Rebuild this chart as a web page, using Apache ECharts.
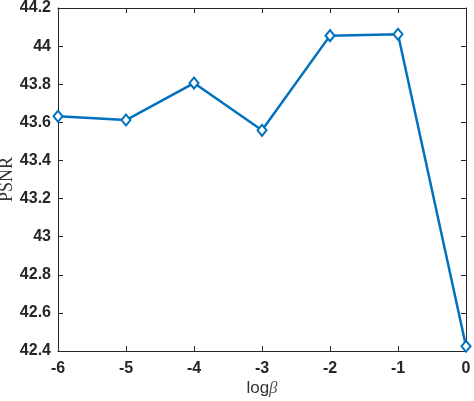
<!DOCTYPE html>
<html>
<head>
<meta charset="utf-8">
<script src="https://cdn.jsdelivr.net/npm/echarts@6/dist/echarts.min.js"></script>
<style>html,body{margin:0;padding:0;background:#fff}#c{width:474px;height:401px}</style>
</head>
<body>
<div id="c"></div>
<script>
const xValues = [-6, -5, -4, -3, -2, -1, 0];
const psnr = [43.632, 43.612, 43.806, 43.558, 44.055, 44.062, 42.425];
const yTicks = [42.4, 42.6, 42.8, 43, 43.2, 43.4, 43.6, 43.8, 44, 44.2];

const chart = echarts.init(document.getElementById('c'), null, {renderer: 'canvas'});
const axisColor = '#262626';
const labelFont = {fontFamily: 'Liberation Sans, Arial, sans-serif', fontWeight: 'bold', fontSize: 16, color: '#262626'};
const baseX = {
  type: 'value', min: -6, max: 0, interval: 1,
  axisLine: {show: true, onZero: false, lineStyle: {color: axisColor, width: 1}},
  axisTick: {show: true, inside: true, length: 5, lineStyle: {color: axisColor}},
  splitLine: {show: false}
};
const baseY = {
  type: 'value', min: 42.4, max: 44.2, interval: 0.2,
  axisLine: {show: true, onZero: false, lineStyle: {color: axisColor, width: 1}},
  axisTick: {show: true, inside: true, length: 5, lineStyle: {color: axisColor}},
  splitLine: {show: false}
};
chart.setOption({
  animation: false,
  backgroundColor: '#fff',
  grid: {left: 58, right: 8, top: 8, bottom: 50, containLabel: false, outerBoundsMode: 'none'},
  xAxis: [
    Object.assign({}, baseX, {
      position: 'bottom',
      axisLabel: Object.assign({margin: 10, formatter: v => String(Math.round(v))}, labelFont),
      name: '{a|log}{b|β}',
      nameLocation: 'middle',
      nameGap: 29,
      nameMoveOverlap: false,
      nameTextStyle: {
        rich: {
          a: {fontFamily: 'Liberation Sans, Arial, sans-serif', fontSize: 17, color: '#333'},
          b: {fontFamily: 'Liberation Serif, Times New Roman, serif', fontStyle: 'italic', fontSize: 17, color: '#555'}
        }
      }
    }),
    Object.assign({}, baseX, {position: 'top', axisLabel: {show: false}})
  ],
  yAxis: [
    Object.assign({}, baseY, {
      position: 'left',
      axisLabel: Object.assign({margin: 7, formatter: v => {
        const t = yTicks.find(k => Math.abs(k - v) < 1e-6);
        return t !== undefined ? String(t) : '';
      }}, labelFont),
      name: 'PSNR',
      nameLocation: 'middle',
      nameGap: 42,
      nameRotate: 90,
      nameMoveOverlap: false,
      nameTextStyle: {fontFamily: 'Liberation Serif, Times New Roman, serif', fontSize: 18, color: '#333'}
    }),
    Object.assign({}, baseY, {position: 'right', axisLabel: {show: false}})
  ],
  series: [{
    type: 'line',
    data: xValues.map((x, i) => [x, psnr[i]]),
    xAxisIndex: 0, yAxisIndex: 0,
    lineStyle: {color: '#0072BD', width: 2.5},
    symbol: 'diamond',
    symbolSize: [9, 11],
    showAllSymbol: true,
    itemStyle: {color: '#fff', borderColor: '#0072BD', borderWidth: 2},
    emphasis: {disabled: true}
  }]
});
</script>
</body>
</html>
